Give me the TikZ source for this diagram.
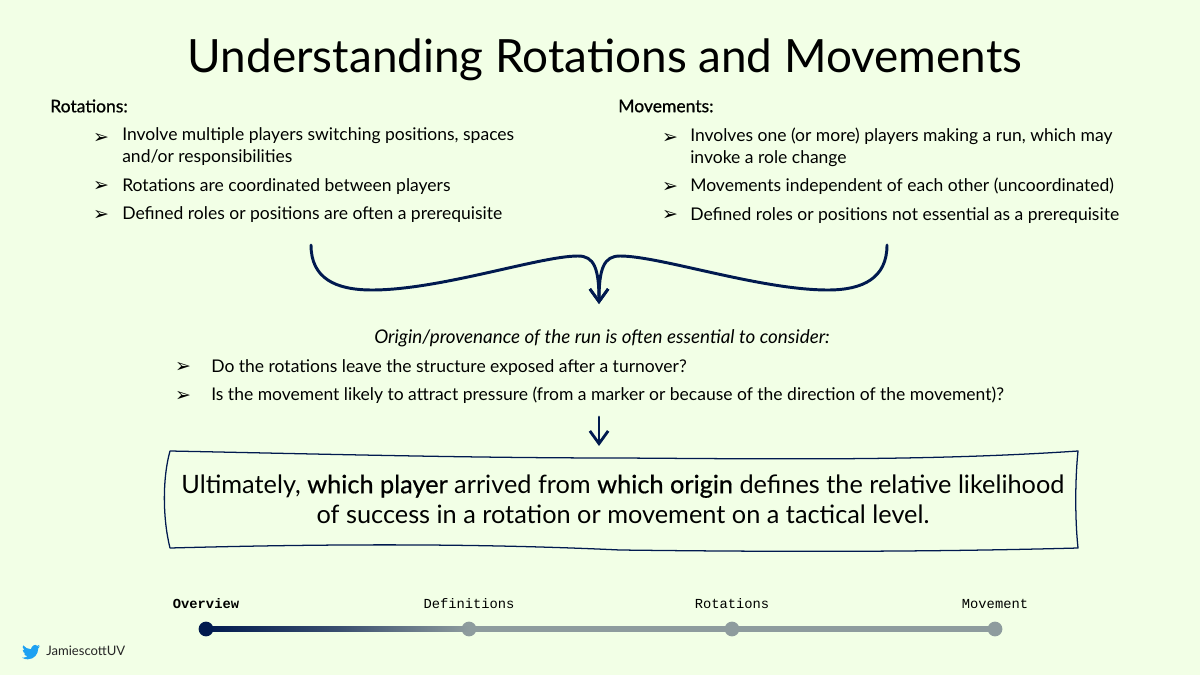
\documentclass[tikz,border=0pt]{standalone}
\usepackage{fontspec}
\setmainfont{Lato}
\setmonofont{Liberation Mono}
\newfontfamily\bulfont{DejaVu Sans}
\newfontfamily\semifont[FakeBold=0.7]{Lato}
\usetikzlibrary{positioning,arrows.meta}

\definecolor{pagebg}{HTML}{F2FFE6}
\definecolor{navy}{HTML}{011A4F}
\definecolor{stepgrey}{HTML}{8E9C9E}
\definecolor{birdblue}{HTML}{1DA1F2}

\tikzset{
	title/.style={font=\fontsize{32.6}{36}\selectfont, text=black, inner sep=0},
	head/.style={font=\semifont\fontsize{12.45}{15.65}\selectfont, anchor=west, inner sep=0},
	item/.style={font=\fontsize{12.45}{15.65}\selectfont, align=left, anchor=north west, inner sep=0,
		execute at begin node=\strut, execute at end node=\strut},
	bul/.style={font=\bulfont\fontsize{13.5}{14}\selectfont, inner sep=0},
	flow/.style={draw=navy, line width=2.1pt, line cap=round, -{Straight Barb[length=9pt,width=13pt,line width=2pt]}},
	steplabel/.style={font=\ttfamily\fontsize{9.8}{12}\selectfont, anchor=base, inner sep=0},
	stepdot/.style={circle, fill=stepgrey, minimum size=10.5pt, inner sep=0},
}

\begin{document}
\begin{tikzpicture}[x=0.025cm, y=-0.025cm]
	\fill[pagebg] (0,0) rectangle (1200,675);
	\useasboundingbox (0,0) rectangle (1200,675);

	\node[title] (ttl) at (605,60) {Understanding Rotations and Movements};

	% left column
	\node[head] (rot) at (50,106) {Rotations:};
	\node[item] (r1) at (122,127.5) {Involve multiple players switching positions, spaces\\and/or responsibilities};
	\node[item, below=4.27pt of r1.south west, anchor=north west] (r2) {Rotations are coordinated between players};
	\node[item, below=4.27pt of r2.south west, anchor=north west] (r3) {Defined roles or positions are often a prerequisite};

	% right column
	\node[head] (mov) at (618,106) {Movements:};
	\node[item] (m1) at (690,127.5) {Involves one (or more) players making a run, which may\\invoke a role change};
	\node[item, below=4.27pt of m1.south west, anchor=north west] (m2) {Movements independent of each other (uncoordinated)};
	\node[item, below=4.27pt of m2.south west, anchor=north west] (m3) {Defined roles or positions not essential as a prerequisite};

	% middle block
	\node[item, anchor=center, font=\fontsize{13.4}{15.65}\selectfont\itshape] (orig) at (602,339.5) {Origin/provenance of the run is often essential to consider:};
	\node[item] (o1) at (211,356.5) {Do the rotations leave the structure exposed after a turnover?};
	\node[item, below=4.27pt of o1.south west, anchor=north west] (o2) {Is the movement likely to attract pressure (from a marker or because of the direction of the movement)?};

	\foreach \n/\dx in {r1/21,r2/21,r3/21,m1/20,m2/20,m3/20,o1/28,o2/28}
		\node[bul] (\n m) at ([shift={(-\dx,11)}]\n.north west) {➢};

	% brace and arrows
	\coordinate (bl) at (311,245);
	\coordinate (br) at (887,245);
	\coordinate (tip) at (599,304);
	\draw[flow] (bl) .. controls (311,278) and (335,290) .. (372,290)
		.. controls (440,290) and (540,256) .. (578,256)
		.. controls (594,256) and (599,268) .. (tip);
	\draw[flow] (br) .. controls (887,278) and (863,290) .. (828,290)
		.. controls (760,290) and (660,256) .. (620,256)
		.. controls (604,256) and (599,268) .. (tip);

	% verdict box
	\node[font=\fontsize{18}{21.3}\selectfont, align=center, inner sep=0] (verdict) at (623,499)
		{Ultimately, {\semifont which player} arrived from {\semifont which origin} defines the relative likelihood\\of success in a rotation or movement on a tactical level.};
	\coordinate (vtop) at (599,446);
	\coordinate (vfrom) at (599,417);
	\draw[flow] (vfrom) -- (vtop);
	\draw[navy, line width=0.9pt, line join=round] (170,451) .. controls (320,454) and (470,458) .. (620,458)
		.. controls (780,459) and (930,461) .. (1078,451)
		.. controls (1075,480) and (1075,520) .. (1078,548)
		.. controls (930,552) and (780,552) .. (620,550)
		.. controls (470,543) and (320,544) .. (170,548)
		.. controls (163,520) and (162,480) .. (170,451) -- cycle;

	% timeline
	\node[steplabel, font=\ttfamily\bfseries\fontsize{9.8}{12}\selectfont] (l1) at (206,608) {Overview};
	\node[steplabel] (l2) at (469,608) {Definitions};
	\node[steplabel] (l3) at (732,608) {Rotations};
	\node[steplabel] (l4) at (995,608) {Movement};
	\coordinate (s1) at (206,629);
	\node[stepdot] (s2) at (469,629) {};
	\node[stepdot] (s3) at (732,629) {};
	\node[stepdot] (s4) at (995,629) {};
	\path[left color=navy, right color=stepgrey, middle color=navy!60!stepgrey] ([yshift=-1.9pt]s1) rectangle ([yshift=1.9pt]s2.center);
	\draw[stepgrey, line width=3.8pt] (s2.center) -- (s3.center);
	\draw[stepgrey, line width=3.8pt] (s3.center) -- (s4.center);
	\node[stepdot, fill=navy] (s1n) at (s1) {};

	% handle
	\begin{scope}[shift={(22,643)}, x=0.01875cm, y=-0.01875cm]
		\fill[birdblue] (23.95,4.57) .. controls (23.1,4.95) and (22.1,5.2) .. (21.13,5.35)
			.. controls (22.1,4.75) and (22.9,3.8) .. (23.29,2.62)
			.. controls (22.34,3.18) and (21.29,3.58) .. (20.16,3.81)
			.. controls (17.66,0.41) and (12.66,4.17) .. (11.78,8.29)
			.. controls (7.69,8.1) and (4.07,6.13) .. (1.64,3.16)
			.. controls (1.2,3.9) and (0.97,4.75) .. (0.97,5.64)
			.. controls (0.97,7.35) and (1.84,8.85) .. (3.16,9.73)
			.. controls (2.35,9.7) and (1.6,9.5) .. (0.93,9.12)
			-- (0.93,9.18)
			.. controls (0.93,11.55) and (2.65,13.55) .. (4.88,14)
			.. controls (4.16,14.2) and (3.4,14.23) .. (2.67,14.09)
			.. controls (3.3,16.05) and (5.1,17.45) .. (7.27,17.5)
			.. controls (5.6,18.85) and (3.5,19.61) .. (1.17,19.61)
			.. controls (0.78,19.61) and (0.39,19.59) .. (0,19.54)
			.. controls (2.2,20.95) and (4.8,21.75) .. (7.56,21.75)
			.. controls (16.6,21.75) and (21.56,14.25) .. (21.56,7.77)
			-- (21.54,7.13)
			.. controls (22.5,6.44) and (23.35,5.55) .. (24,4.59) -- cycle;
	\end{scope}
	\node[font=\fontsize{9.3}{10}\selectfont, text=black!85, anchor=west, inner sep=0] (hnd) at (46,651) {JamiescottUV};
\end{tikzpicture}
\end{document}
